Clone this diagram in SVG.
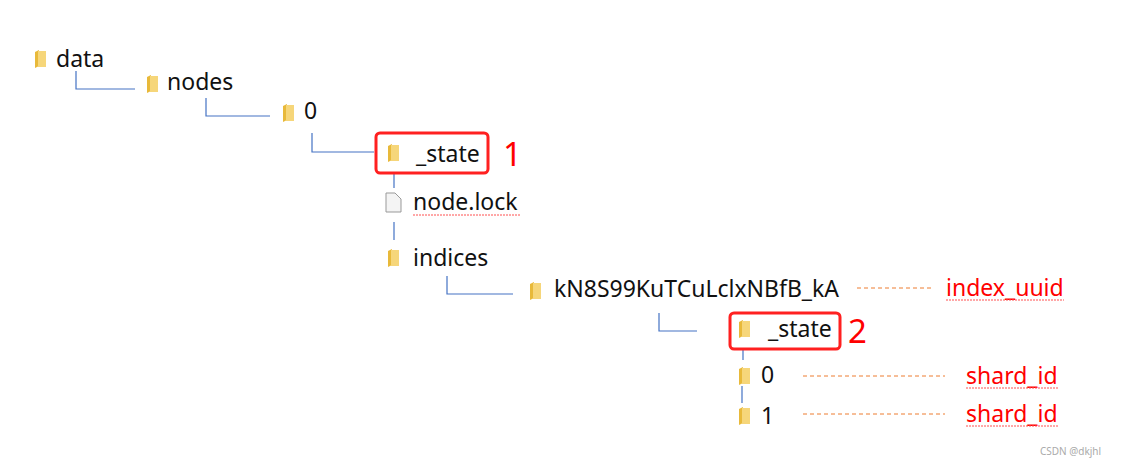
<svg xmlns="http://www.w3.org/2000/svg" width="1126" height="466" viewBox="0 0 1126 466">
<style>
text{font-family:"Noto Sans","Liberation Sans",sans-serif;font-size:23px;fill:#111}
.r{fill:#ff0000}
.u{stroke:#ff5050;stroke-width:1;stroke-dasharray:2 1;fill:none}
.c{stroke:#4472c4;stroke-width:1.2;fill:none}
.d{stroke:#ed7d31;stroke-width:1;stroke-dasharray:4 3;fill:none}
.box{stroke:#ff2020;stroke-width:3;fill:none}
.n{font-size:33px;fill:#ff0000}
</style>
<defs>
<g id="fold"><path d="M0 2 L4 0 L4 16 L0 18 Z" fill="#e8b93a"/><path d="M3 1 L11 1 L11 17 L3 17 Z" fill="#f6d67a"/></g>
</defs>
<rect width="1126" height="466" fill="#fff"/>
<g id="connectors">
<path class="c" d="M76 71V89H135"/>
<path class="c" d="M206 98V116H270"/>
<path class="c" d="M312 133V152H374"/>
<path class="c" d="M394 174V188"/>
<path class="c" d="M394 222V240"/>
<path class="c" d="M447 276V294H513"/>
<path class="c" d="M659 313V331H697"/>
<path class="c" d="M743 348V360"/>
<path class="c" d="M742 386V403"/>
<path class="d" d="M857 288H932"/>
<path class="d" d="M803 376H945"/>
<path class="d" d="M803 414H945"/>
</g>
<g id="data"><use href="#fold" x="35" y="50"/><text x="56" y="67">data</text></g>
<g id="nodes"><use href="#fold" x="147" y="75"/><text x="167" y="90">nodes</text></g>
<g id="n0"><use href="#fold" x="283" y="104"/><text x="304" y="119">0</text></g>
<g id="state1"><rect class="box" x="376" y="133" width="112" height="40" rx="4"/><use href="#fold" x="388" y="144"/><text x="416" y="162">_state</text><text class="n" x="503" y="166">1</text></g>
<g id="nodelock"><path d="M386 193H395L401 199V212H386Z" fill="#f4f4f4" stroke="#999"/><text x="413" y="210">node.lock</text><path class="u" d="M413 215H521"/></g>
<g id="indices"><use href="#fold" x="388" y="249"/><text x="413" y="266">indices</text></g>
<g id="uuid"><use href="#fold" x="530" y="282"/><text x="554" y="297">kN8S99KuTCuLclxNBfB_kA</text><text class="r" x="946" y="296">index_uuid</text><path class="u" d="M946 300H1064"/></g>
<g id="state2"><rect class="box" x="730" y="313" width="110" height="36" rx="4"/><use href="#fold" x="739" y="320"/><text x="768" y="337">_state</text><text class="n" x="848" y="343">2</text></g>
<g id="s0"><use href="#fold" x="739" y="367"/><text x="761" y="383">0</text><text class="r" x="966" y="384">shard_id</text><path class="u" d="M966 388H1058"/></g>
<g id="s1"><use href="#fold" x="739" y="407"/><text x="761" y="424">1</text><text class="r" x="966" y="422">shard_id</text><path class="u" d="M966 426H1058"/></g>
<text x="1040" y="455" style="font-size:10px;fill:#aaa">CSDN @dkjhl</text>
</svg>
